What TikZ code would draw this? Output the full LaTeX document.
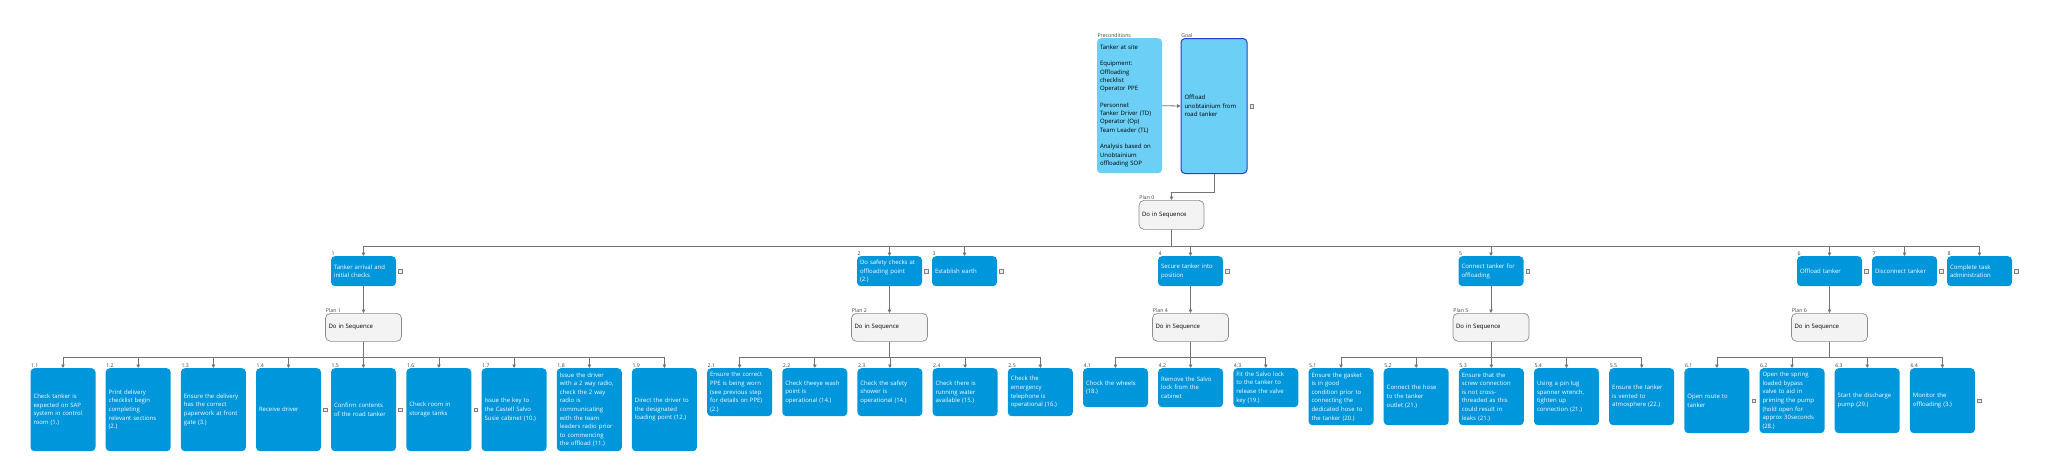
\documentclass[tikz,border=0pt]{standalone}
\usepackage{fontspec}
\setmainfont{Open Sans}
\usetikzlibrary{arrows.meta}

\definecolor{taskblue}{RGB}{0,150,219}
\definecolor{goalblue}{RGB}{107,207,246}
\definecolor{goalline}{RGB}{40,60,210}
\definecolor{planfill}{RGB}{243,243,243}
\definecolor{planline}{RGB}{140,140,140}
\definecolor{wire}{RGB}{115,115,115}

\tikzset{
  task/.style={fill=taskblue, text=white, rounded corners=4pt, anchor=north,
    minimum width=65pt, text width=59pt, inner xsep=3pt, inner ysep=1pt,
    align=left, font=\fontsize{6}{8.6}\selectfont},
  plan/.style={fill=planfill, draw=planline, line width=0.7pt, rounded corners=5pt,
    anchor=north, minimum width=76pt, minimum height=28pt, text width=70pt,
    inner xsep=3pt, align=left, font=\fontsize{6}{8.6}\selectfont},
  tag/.style={font=\fontsize{5.2}{6}\selectfont, text=black!75, inner sep=0.6pt,
    anchor=south west},
  icon/.style={draw=gray, fill=gray!15, minimum size=3.5pt, inner sep=0pt},
  flow/.style={draw=wire, line width=0.8pt, -{Triangle[length=3.5pt,width=3.5pt]}},
}

\begin{document}
\begin{tikzpicture}[x=1pt,y=-1pt]
  \useasboundingbox (0,0) rectangle (2048,475);

  % goal and preconditions
  \node[task, fill=goalblue, text=black, minimum height=135pt, inner ysep=2pt,
    font=\fontsize{6}{8.3}\selectfont, label={[tag]north west:Preconditions}]
    (pre) at (1129.5,38) {Tanker at site\\[8.3pt]Equipment:\\Offloading\\checklist\\Operator PPE\\[8.3pt]Personnel:\\Tanker Driver (TD)\\Operator (Op)\\Team Leader (TL)\\[8.3pt]Analysis based on\\Unobtainium\\offloading SOP};
  \node[task, fill=goalblue, text=black, draw=goalline, line width=1pt, minimum width=66pt,
    minimum height=135pt, label={[tag]north west:Goal}]
    (goal) at (1214,38) {Offload\\unobtainium from\\road tanker};
  \node[icon] (n0) at ([xshift=4pt]goal.east) {};

  \node[plan, minimum width=65pt, text width=59pt, minimum height=29pt,
    label={[tag]north west:Plan 0}] (p0) at (1171.5,200) {Do in Sequence};

  % level 1
  \node[task, minimum height=30pt, label={[tag]north west:1}] (t1) at (363.5,256) {Tanker arrival and\\initial checks};
  \node[task, minimum height=30pt, label={[tag]north west:2}] (t2) at (889.5,256) {Do safety checks at\\offloading point\\(2.)};
  \node[task, minimum height=30pt, label={[tag]north west:3}] (t3) at (964.5,256) {Establish earth};
  \node[task, minimum height=30pt, label={[tag]north west:4}] (t4) at (1190.5,256) {Secure tanker into\\position};
  \node[task, minimum height=30pt, label={[tag]north west:5}] (t5) at (1491,256) {Connect tanker for\\offloading};
  \node[task, minimum height=30pt, label={[tag]north west:6}] (t6) at (1829.5,256) {Offload tanker};
  \node[task, minimum height=30pt, label={[tag]north west:7}] (t7) at (1904.5,256) {Disconnect tanker};
  \node[task, minimum height=30pt, label={[tag]north west:8}] (t8) at (1979.5,256) {Complete task\\administration};

  \node[icon] (n1) at ([xshift=4pt]t1.east) {};
  \node[icon] (n2) at ([xshift=4pt]t2.east) {};
  \node[icon] (n3) at ([xshift=4pt]t3.east) {};
  \node[icon] (n4) at ([xshift=4pt]t4.east) {};
  \node[icon] (n5) at ([xshift=4pt]t5.east) {};
  \node[icon] (n6) at ([xshift=4pt]t6.east) {};
  \node[icon] (n7) at ([xshift=4pt]t7.east) {};
  \node[icon] (n8) at ([xshift=4pt]t8.east) {};

  % plans
  \node[plan, label={[tag]north west:Plan 1}] (p1) at (363.5,313) {Do in Sequence};
  \node[plan, label={[tag]north west:Plan 2}] (p2) at (889.5,313) {Do in Sequence};
  \node[plan, label={[tag]north west:Plan 4}] (p4) at (1190.5,313) {Do in Sequence};
  \node[plan, label={[tag]north west:Plan 5}] (p5) at (1491,313) {Do in Sequence};
  \node[plan, label={[tag]north west:Plan 6}] (p6) at (1829.5,313) {Do in Sequence};

  % leaves of plan 1
  \node[task, minimum height=83pt, label={[tag]north west:1.1}] (l11) at (63,368) {Check tanker is\\expected on SAP\\system in control\\room (1.)};
  \node[task, minimum height=83pt, label={[tag]north west:1.2}] (l12) at (138.2,368) {Print delivery\\checklist begin\\completing\\relevant sections\\(2.)};
  \node[task, minimum height=83pt, label={[tag]north west:1.3}] (l13) at (213.4,368) {Ensure the delivery\\has the correct\\paperwork at front\\gate (3.)};
  \node[task, minimum height=83pt, label={[tag]north west:1.4}] (l14) at (288.5,368) {Receive driver};
  \node[task, minimum height=83pt, label={[tag]north west:1.5}] (l15) at (363.5,368) {Confirm contents\\of the road tanker};
  \node[task, minimum height=83pt, label={[tag]north west:1.6}] (l16) at (438.9,368) {Check room in\\storage tanks};
  \node[task, minimum height=83pt, label={[tag]north west:1.7}] (l17) at (514.1,368) {Issue the key to\\the Castell Salvo\\Susie cabinet (10.)};
  \node[task, minimum height=83pt, label={[tag]north west:1.8}] (l18) at (589.3,368) {Issue the driver\\with a 2 way radio,\\check the 2 way\\radio is\\communicating\\with the team\\leaders radio prior\\to commencing\\the offload (11.)};
  \node[task, minimum height=83pt, label={[tag]north west:1.9}] (l19) at (664.4,368) {Direct the driver to\\the designated\\loading point (12.)};

  \node[icon] (n14) at ([xshift=4pt]l14.east) {};
  \node[icon] (n15) at ([xshift=4pt]l15.east) {};
  \node[icon] (n16) at ([xshift=4pt]l16.east) {};

  % leaves of plan 2
  \node[task, minimum height=48pt, label={[tag]north west:2.1}] (l21) at (739.6,368) {Ensure the correct\\PPE is being worn\\(see previous step\\for details on PPE)\\(2.)};
  \node[task, minimum height=48pt, label={[tag]north west:2.2}] (l22) at (814.8,368) {Check theeye wash\\point is\\operational (14.)};
  \node[task, minimum height=48pt, label={[tag]north west:2.3}] (l23) at (889.9,368) {Check the safety\\shower is\\operational (14.)};
  \node[task, minimum height=48pt, label={[tag]north west:2.4}] (l24) at (965.1,368) {Check there is\\running water\\available (15.)};
  \node[task, minimum height=48pt, label={[tag]north west:2.5}] (l25) at (1040.3,368) {Check the\\emergency\\telephone is\\operational (16.)};

  % leaves of plan 4
  \node[task, minimum height=39pt, label={[tag]north west:4.1}] (l41) at (1115.5,368) {Chock the wheels\\(18.)};
  \node[task, minimum height=39pt, label={[tag]north west:4.2}] (l42) at (1190.6,368) {Remove the Salvo\\lock from the\\cabinet};
  \node[task, minimum height=39pt, label={[tag]north west:4.3}] (l43) at (1265.8,368) {Fit the Salvo lock\\to the tanker to\\release the valve\\key (19.)};

  % leaves of plan 5
  \node[task, minimum height=57pt, label={[tag]north west:5.1}] (l51) at (1341,368) {Ensure the gasket\\is in good\\condition prior to\\connecting the\\dedicated hose to\\the tanker (20.)};
  \node[task, minimum height=57pt, label={[tag]north west:5.2}] (l52) at (1416.2,368) {Connect the hose\\to the tanker\\outlet (21.)};
  \node[task, minimum height=57pt, label={[tag]north west:5.3}] (l53) at (1491.3,368) {Ensure that the\\screw connection\\is not cross-\\threaded as this\\could result in\\leaks (21.)};
  \node[task, minimum height=57pt, label={[tag]north west:5.4}] (l54) at (1566.5,368) {Using a pin lug\\spanner wrench,\\tighten up\\connection (21.)};
  \node[task, minimum height=57pt, label={[tag]north west:5.5}] (l55) at (1641.7,368) {Ensure the tanker\\is vented to\\atmosphere (22.)};

  % leaves of plan 6
  \node[task, minimum height=65pt, label={[tag]north west:6.1}] (l61) at (1716.9,368) {Open route to\\tanker};
  \node[task, minimum height=65pt, label={[tag]north west:6.2}] (l62) at (1792,368) {Open the spring\\loaded bypass\\valve to aid in\\priming the pump\\(hold open for\\approx 30seconds\\(28.)};
  \node[task, minimum height=65pt, label={[tag]north west:6.3}] (l63) at (1867.2,368) {Start the discharge\\pump (29.)};
  \node[task, minimum height=65pt, label={[tag]north west:6.4}] (l64) at (1942.4,368) {Monitor the\\offloading (3.)};

  \node[icon] (n61) at ([xshift=4pt]l61.east) {};
  \node[icon] (n64) at ([xshift=4pt]l64.east) {};

  % connectors
  \coordinate (b0) at (0,246);
  \coordinate (b1) at (0,357);

  \draw[flow] (pre.east) -- (goal.west);
  \draw[flow] (goal.south) -- ++(0,18) -| (p0.north);

  \draw[flow] (p0.south) -- (p0.south |- b0) -| (t1.north);
  \draw[flow] (p0.south) -- (p0.south |- b0) -| (t2.north);
  \draw[flow] (p0.south) -- (p0.south |- b0) -| (t3.north);
  \draw[flow] (p0.south) -- (p0.south |- b0) -| (t4.north);
  \draw[flow] (p0.south) -- (p0.south |- b0) -| (t5.north);
  \draw[flow] (p0.south) -- (p0.south |- b0) -| (t6.north);
  \draw[flow] (p0.south) -- (p0.south |- b0) -| (t7.north);
  \draw[flow] (p0.south) -- (p0.south |- b0) -| (t8.north);

  \draw[flow] (t1.south) -- (p1.north);
  \draw[flow] (t2.south) -- (p2.north);
  \draw[flow] (t4.south) -- (p4.north);
  \draw[flow] (t5.south) -- (p5.north);
  \draw[flow] (t6.south) -- (p6.north);

  \draw[flow] (p1.south) -- (p1.south |- b1) -| (l11.north);
  \draw[flow] (p1.south) -- (p1.south |- b1) -| (l12.north);
  \draw[flow] (p1.south) -- (p1.south |- b1) -| (l13.north);
  \draw[flow] (p1.south) -- (p1.south |- b1) -| (l14.north);
  \draw[flow] (p1.south) -- (p1.south |- b1) -| (l15.north);
  \draw[flow] (p1.south) -- (p1.south |- b1) -| (l16.north);
  \draw[flow] (p1.south) -- (p1.south |- b1) -| (l17.north);
  \draw[flow] (p1.south) -- (p1.south |- b1) -| (l18.north);
  \draw[flow] (p1.south) -- (p1.south |- b1) -| (l19.north);

  \draw[flow] (p2.south) -- (p2.south |- b1) -| (l21.north);
  \draw[flow] (p2.south) -- (p2.south |- b1) -| (l22.north);
  \draw[flow] (p2.south) -- (p2.south |- b1) -| (l23.north);
  \draw[flow] (p2.south) -- (p2.south |- b1) -| (l24.north);
  \draw[flow] (p2.south) -- (p2.south |- b1) -| (l25.north);

  \draw[flow] (p4.south) -- (p4.south |- b1) -| (l41.north);
  \draw[flow] (p4.south) -- (p4.south |- b1) -| (l42.north);
  \draw[flow] (p4.south) -- (p4.south |- b1) -| (l43.north);

  \draw[flow] (p5.south) -- (p5.south |- b1) -| (l51.north);
  \draw[flow] (p5.south) -- (p5.south |- b1) -| (l52.north);
  \draw[flow] (p5.south) -- (p5.south |- b1) -| (l53.north);
  \draw[flow] (p5.south) -- (p5.south |- b1) -| (l54.north);
  \draw[flow] (p5.south) -- (p5.south |- b1) -| (l55.north);

  \draw[flow] (p6.south) -- (p6.south |- b1) -| (l61.north);
  \draw[flow] (p6.south) -- (p6.south |- b1) -| (l62.north);
  \draw[flow] (p6.south) -- (p6.south |- b1) -| (l63.north);
  \draw[flow] (p6.south) -- (p6.south |- b1) -| (l64.north);
\end{tikzpicture}
\end{document}
